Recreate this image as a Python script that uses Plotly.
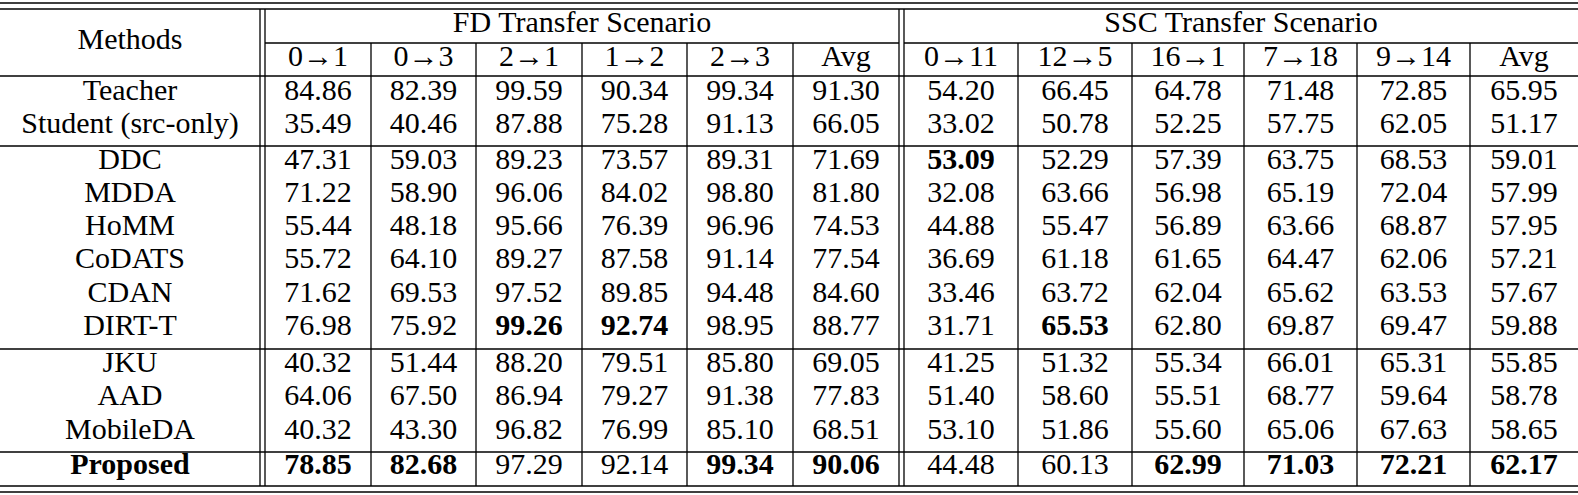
import plotly.graph_objects as go

# table content
methods = [
    "Teacher", "Student (src-only)", "DDC", "MDDA", "HoMM", "CoDATS",
    "CDAN", "DIRT-T", "JKU", "AAD", "MobileDA", "Proposed",
]
fd_cols = ["0→1", "0→3", "2→1", "1→2", "2→3", "Avg"]
ssc_cols = ["0→11", "12→5", "16→1", "7→18", "9→14", "Avg"]

fd_values = [
    [84.86, 82.39, 99.59, 90.34, 99.34, 91.30],
    [35.49, 40.46, 87.88, 75.28, 91.13, 66.05],
    [47.31, 59.03, 89.23, 73.57, 89.31, 71.69],
    [71.22, 58.90, 96.06, 84.02, 98.80, 81.80],
    [55.44, 48.18, 95.66, 76.39, 96.96, 74.53],
    [55.72, 64.10, 89.27, 87.58, 91.14, 77.54],
    [71.62, 69.53, 97.52, 89.85, 94.48, 84.60],
    [76.98, 75.92, 99.26, 92.74, 98.95, 88.77],
    [40.32, 51.44, 88.20, 79.51, 85.80, 69.05],
    [64.06, 67.50, 86.94, 79.27, 91.38, 77.83],
    [40.32, 43.30, 96.82, 76.99, 85.10, 68.51],
    [78.85, 82.68, 97.29, 92.14, 99.34, 90.06],
]
ssc_values = [
    [54.20, 66.45, 64.78, 71.48, 72.85, 65.95],
    [33.02, 50.78, 52.25, 57.75, 62.05, 51.17],
    [53.09, 52.29, 57.39, 63.75, 68.53, 59.01],
    [32.08, 63.66, 56.98, 65.19, 72.04, 57.99],
    [44.88, 55.47, 56.89, 63.66, 68.87, 57.95],
    [36.69, 61.18, 61.65, 64.47, 62.06, 57.21],
    [33.46, 63.72, 62.04, 65.62, 63.53, 57.67],
    [31.71, 65.53, 62.80, 69.87, 69.47, 59.88],
    [41.25, 51.32, 55.34, 66.01, 65.31, 55.85],
    [51.40, 58.60, 55.51, 68.77, 59.64, 58.78],
    [53.10, 51.86, 55.60, 65.06, 67.63, 58.65],
    [44.48, 60.13, 62.99, 71.03, 72.21, 62.17],
]
# (row, column) of bold cells; columns 0-5 FD, 6-11 SSC
bold_cells = [
    (2, 6), (7, 2), (7, 3), (7, 7),
    (11, 0), (11, 1), (11, 4), (11, 5),
    (11, 8), (11, 9), (11, 10), (11, 11),
]
bold_rows = [11]

# layout in pixels
W, H = 1578, 495
col_edges = [265, 371, 476, 582, 687, 793, 899, 904, 1018, 1132, 1244, 1357, 1470, 1578]
row_y = [93, 126, 162, 195, 228, 261, 295, 328, 365, 398, 432, 467]
FONT = "Liberation Serif, Times New Roman, serif"
SIZE = 30
DY = -1

# column centres (skip the double-rule gap)
edges_fd = col_edges[:7]
edges_ssc = col_edges[7:]
centres = [(a + b) / 2 for a, b in zip(edges_fd[:-1], edges_fd[1:])]
centres += [(a + b) / 2 for a, b in zip(edges_ssc[:-1], edges_ssc[1:])]

xs, ys, texts = [], [], []
for r, name in enumerate(methods):
    xs.append(130)
    ys.append(row_y[r] + DY)
    texts.append(f"<b>{name}</b>" if r in bold_rows else name)
    for c, v in enumerate(fd_values[r] + ssc_values[r]):
        s = f"{v:.2f}"
        xs.append(centres[c])
        ys.append(row_y[r] + DY)
        texts.append(f"<b>{s}</b>" if (r, c) in bold_cells else s)

# header
xs += [130, (265 + 899) / 2, (904 + 1578) / 2]
ys += [42 + DY, 25 + DY, 25 + DY]
texts += ["Methods", "FD Transfer Scenario", "SSC Transfer Scenario"]
for c, lab in enumerate(fd_cols + ssc_cols):
    xs.append(centres[c])
    ys.append(59 + DY)
    texts.append(lab)

fig = go.Figure(
    go.Scatter(
        x=xs, y=ys, text=texts, mode="text",
        textposition="middle center",
        textfont=dict(family=FONT, size=SIZE, color="black"),
        hoverinfo="skip",
    )
)

line = dict(color="black", width=1.3)
shapes = []


def hline(y, x0=0, x1=W):
    shapes.append(dict(type="line", x0=x0, x1=x1, y0=y, y1=y, xref="x", yref="y", line=line))


def vline(x, y0, y1):
    shapes.append(dict(type="line", x0=x, x1=x, y0=y0, y1=y1, xref="x", yref="y", line=line))


for y in [3, 9, 76, 146, 349, 452, 486, 492]:
    hline(y)
hline(43, 265, 899)
hline(43, 904, W)

for x in [260, 265, 899, 904]:
    vline(x, 9, 486)
for x in col_edges[1:6] + col_edges[8:13]:
    vline(x, 43, 486)

fig.update_layout(
    width=W, height=H,
    margin=dict(l=0, r=0, t=0, b=0),
    paper_bgcolor="white", plot_bgcolor="white",
    showlegend=False,
    shapes=shapes,
    xaxis=dict(range=[0, W], visible=False, fixedrange=True),
    yaxis=dict(range=[H, 0], visible=False, fixedrange=True),
)

# drop the default page margin so the table sits at the window edge
fig.write_html(
    "out.html",
    config={"displayModeBar": False},
    post_script="document.body.style.margin='0';",
)
